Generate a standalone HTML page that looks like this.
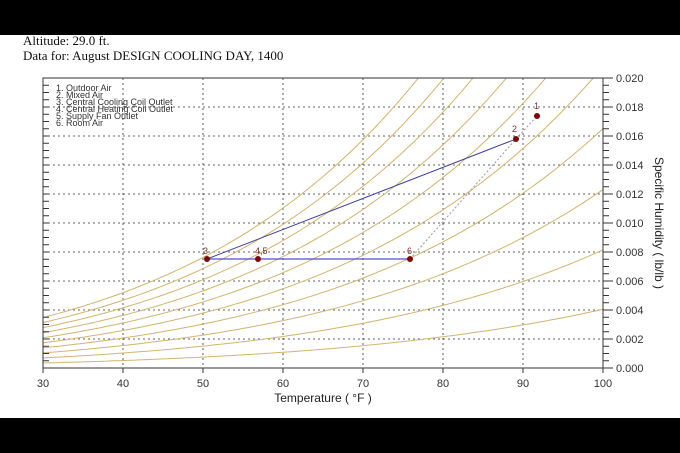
<!DOCTYPE html>
<html><head><style>
html,body{margin:0;padding:0;background:#fff;}
body{width:680px;height:453px;overflow:hidden;position:relative;}
svg{position:absolute;left:0;top:0;}
</style></head><body>
<svg id="s" width="680" height="453" xmlns="http://www.w3.org/2000/svg" font-family="Liberation Sans, Arial, sans-serif">
<rect x="0" y="0" width="680" height="35" fill="#000"/>
<rect x="0" y="418" width="680" height="35" fill="#000"/>
<text x="23" y="45" font-family="Liberation Serif, serif" font-size="13" fill="#111">Altitude: 29.0  ft.</text>
<text x="23" y="60" font-family="Liberation Serif, serif" font-size="13" fill="#111">Data for: August DESIGN COOLING DAY, 1400</text>
<g id="grid"></g>
<g id="curves" fill="none" stroke="#d2b46e" stroke-width="1"></g>
<g id="axes"></g>
<g font-size="9" fill="#333">
<text x="56" y="91">1. Outdoor Air</text>
<text x="56" y="98">2. Mixed Air</text>
<text x="56" y="105">3. Central Cooling Coil Outlet</text>
<text x="56" y="112">4. Central Heating Coil Outlet</text>
<text x="56" y="119">5. Supply Fan Outlet</text>
<text x="56" y="126">6. Room Air</text>
</g>
<line x1="207" y1="259" x2="516" y2="139" stroke="#4040a0" stroke-width="1"/>
<line x1="207" y1="259" x2="410" y2="259" stroke="#5050d0" stroke-width="1.2"/>
<line x1="410" y1="259" x2="516" y2="139" stroke="#999" stroke-width="1" stroke-dasharray="2,2"/>
<line x1="516" y1="139" x2="537" y2="116" stroke="#999" stroke-width="1" stroke-dasharray="2,2"/>
<g fill="#7a0b0b">
<circle cx="537" cy="116" r="3"/><circle cx="516" cy="139" r="3"/>
<circle cx="207" cy="259" r="3"/><circle cx="258" cy="259" r="3"/><circle cx="410" cy="259" r="3"/>
</g>
<g font-size="9" fill="#7a3030">
<text x="534" y="109">1</text><text x="512" y="132">2</text><text x="203" y="254">3</text>
<text x="255" y="254">4,5</text><text x="407" y="254">6</text>
</g>
<text x="323" y="402" font-size="12" fill="#222" text-anchor="middle">Temperature ( °F )</text>
<text transform="translate(655,223) rotate(90)" font-size="12" fill="#222" text-anchor="middle">Specific Humidity ( lb/lb )</text>
</svg>
<script>
var NS="http://www.w3.org/2000/svg";
function X(t){return 43+(t-30)*8;}
function Y(w){return 368-w*14500;}
function el(p,n,a){var e=document.createElementNS(NS,n);for(var k in a)e.setAttribute(k,a[k]);p.appendChild(e);return e;}
var g=document.getElementById('grid'),c=document.getElementById('curves'),ax=document.getElementById('axes');
for(var t=40;t<100;t+=10)el(g,'line',{x1:X(t),y1:78,x2:X(t),y2:368,stroke:'#333','stroke-dasharray':'2,3','stroke-width':0.8});
for(var w=0.002;w<0.0199;w+=0.002)el(g,'line',{x1:43,y1:Y(w),x2:603,y2:Y(w),stroke:'#333','stroke-dasharray':'2,3','stroke-width':0.8});
function pws(tf){var tc=(tf-32)/1.8;return 0.61094*Math.exp(17.625*tc/(tc+243.04));}
var P=101.2;
var defs=el(document.getElementById('s'),'clipPath',{id:'cp'});el(defs,'rect',{x:43,y:78,width:560,height:290});
c.setAttribute('clip-path','url(#cp)');
for(var rh=0.1;rh<=1.001;rh+=0.1){var d='';for(var t=30;t<=100;t+=0.5){var pv=rh*pws(t);var w=0.622*pv/(P-pv);d+=(d?'L':'M')+X(t).toFixed(1)+','+Y(w).toFixed(1);}el(c,'path',{d:d});}
el(ax,'rect',{x:43,y:78,width:560,height:290,fill:'none',stroke:'#333','stroke-width':1});
for(var i=0;i<=40;i++){var y=Y(i*0.0005);var maj=i%4==0;
el(ax,'line',{x1:603,y1:y,x2:603+(maj?10:6),y2:y,stroke:'#333'});
el(ax,'line',{x1:43,y1:y,x2:49,y2:y,stroke:'#333'});
if(maj){var tx=el(ax,'text',{x:616,y:y+4,'font-size':11,fill:'#333'});tx.textContent=(i*0.0005).toFixed(3);}}
for(var t=30;t<=100;t+=10){el(ax,'line',{x1:X(t),y1:368,x2:X(t),y2:373,stroke:'#333'});var tx=el(ax,'text',{x:X(t),y:387,'font-size':11,fill:'#333','text-anchor':'middle'});tx.textContent=t;}
</script>
</body></html>
